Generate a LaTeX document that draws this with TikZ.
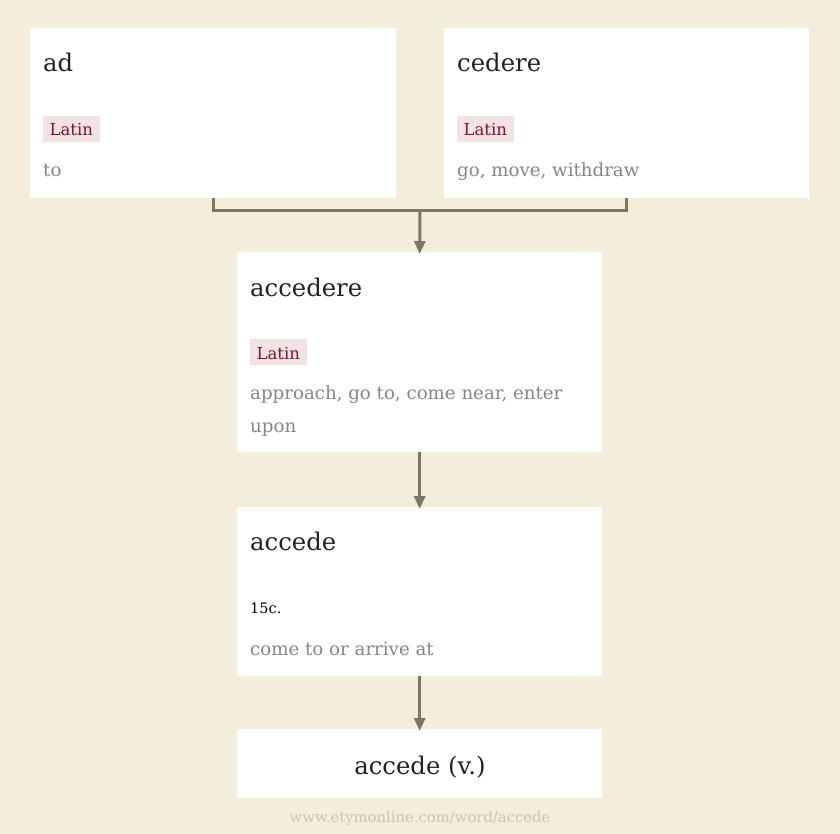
\documentclass[tikz,border=0pt]{standalone}
\usepackage{fontspec}
\setmainfont{DejaVu Serif}
\usetikzlibrary{arrows.meta}
\definecolor{bgc}{HTML}{F3EDDC}
\definecolor{connc}{HTML}{7B7666}
\definecolor{titlec}{HTML}{222222}
\definecolor{glossc}{HTML}{868686}
\definecolor{tagbg}{HTML}{F1E2E5}
\definecolor{tagfg}{HTML}{86112B}
\definecolor{footc}{HTML}{CBC5B8}
\tikzset{
  card/.style={fill=white, draw=none, anchor=north west, inner sep=0pt},
  wtitle/.style={anchor=base west, inner sep=0pt, text=titlec, font=\fontsize{24.3}{29}\selectfont},
  wgloss/.style={anchor=base west, inner sep=0pt, text=glossc, align=left, font=\fontsize{18.2}{33}\selectfont},
  langtag/.style={anchor=base west, fill=tagbg, text=tagfg, inner xsep=6.5pt, inner ysep=0pt, text height=20pt, text depth=6pt, font=\fontsize{16.5}{19}\selectfont},
  datetxt/.style={anchor=base west, inner sep=0pt, text=black, font=\fontsize{14.5}{17}\selectfont},
  conn/.style={draw=connc, line width=3pt},
  arr/.style={conn, -{Triangle[length=13pt,width=11pt]}}
}
\begin{document}
\begin{tikzpicture}[x=1pt,y=-1pt]
\fill[bgc] (0,0) rectangle (840,834);
\useasboundingbox (0,0) rectangle (840,834);
% cards
\node[card, minimum width=366pt, minimum height=170pt] (ad) at (30,28) {};
\node[card, minimum width=365pt, minimum height=170pt] (cedere) at (444,28) {};
\node[card, minimum width=365pt, minimum height=200pt] (accedere) at (237,252) {};
\node[card, minimum width=365pt, minimum height=169pt] (accede) at (237,507) {};
\node[card, minimum width=365pt, minimum height=69pt] (final) at (237,729) {};
% ad
\node[wtitle] (adT) at (43,72) {ad};
\node[langtag] (adL) at (43,136) {Latin};
\node[wgloss] (adG) at (43,177) {to};
% cedere
\node[wtitle] (ceT) at (457,72) {cedere};
\node[langtag] (ceL) at (457,136) {Latin};
\node[wgloss] (ceG) at (457,177) {go, move, withdraw};
% accedere
\node[wtitle] (acT) at (250,296) {accedere};
\node[langtag] (acL) at (250,359) {Latin};
\node[wgloss] (acG) at (250,432) {approach, go to, come near, enter\\upon};
% accede
\node[wtitle] (aeT) at (250,550) {accede};
\node[datetxt] (aeD) at (250,613) {15c.};
\node[wgloss] (aeG) at (250,655) {come to or arrive at};
% final
\node[anchor=base, inner sep=0pt, text=titlec, font=\fontsize{24.3}{29}\selectfont] (fT) at (420,774) {accede (v.)};
% footer
\node[anchor=base, inner sep=0pt, text=footc, font=\fontsize{14.8}{17}\selectfont] (foot) at (420,822) {www.etymonline.com/word/accede};
% connectors
\coordinate (j) at (420,211);
\draw[conn] (ad.south) |- (j) -| (cedere.south);
\draw[arr] (j) -- ([yshift=-2pt]accedere.north);
\draw[arr] (accedere.south) -- ([yshift=-2pt]accede.north);
\draw[arr] (accede.south) -- ([yshift=-2pt]final.north);
\end{tikzpicture}
\end{document}
